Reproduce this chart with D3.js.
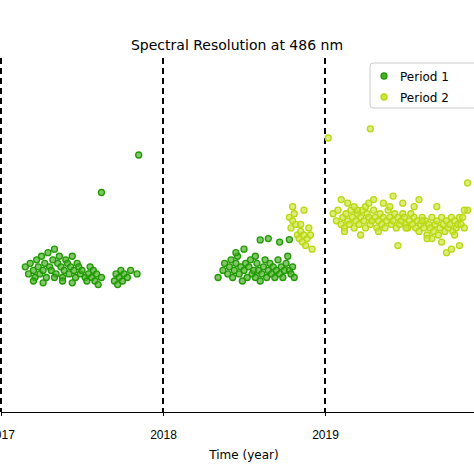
<!DOCTYPE html><html><head><meta charset="utf-8">
<script src="https://cdn.jsdelivr.net/npm/d3@7"></script>
<style>body{margin:0;background:#fff}svg{font-family:"DejaVu Sans",sans-serif}</style></head><body>
<svg id="c" width="474" height="474"></svg>
<script>
const yearTicks = [2017, 2018, 2019, 2020];
const dividers = [2017, 2018, 2019];
const period1 = [[2017.15,41],[2017.17,39],[2017.18,42],[2017.2,40],[2017.21,38],[2017.22,43],[2017.23,41],[2017.24,39],[2017.25,44],[2017.26,40],[2017.27,42],[2017.28,38],[2017.29,45],[2017.3,41],[2017.31,40],[2017.32,43],[2017.33,46],[2017.34,39],[2017.35,42],[2017.36,44],[2017.37,41],[2017.38,38],[2017.39,40],[2017.4,43],[2017.41,42],[2017.42,39],[2017.43,41],[2017.44,44],[2017.45,40],[2017.46,38],[2017.47,42],[2017.48,41],[2017.49,39],[2017.2,37],[2017.26,36.5],[2017.33,38],[2017.38,37],[2017.44,36.5],[2017.5,40],[2017.52,38],[2017.53,37],[2017.54,39],[2017.55,41],[2017.56,38],[2017.57,40],[2017.58,37],[2017.59,39],[2017.6,36],[2017.62,38],[2017.7,37],[2017.71,39],[2017.72,36],[2017.73,38],[2017.74,40],[2017.75,37],[2017.76,39],[2017.78,38],[2017.8,40],[2017.84,39],[2017.62,62],[2017.85,72.6],
[2018.34,38],[2018.37,40],[2018.38,42],[2018.4,39],[2018.41,41],[2018.42,43],[2018.43,38],[2018.44,40],[2018.45,42],[2018.46,44],[2018.47,39],[2018.48,41],[2018.49,37],[2018.5,40],[2018.51,42],[2018.52,38],[2018.53,41],[2018.54,43],[2018.55,39],[2018.56,40],[2018.57,38],[2018.58,42],[2018.59,40],[2018.6,37],[2018.61,39],[2018.62,41],[2018.63,43],[2018.64,38],[2018.65,40],[2018.66,42],[2018.67,39],[2018.68,41],[2018.69,38],[2018.7,40],[2018.71,43],[2018.72,39],[2018.73,41],[2018.74,38],[2018.75,40],[2018.76,42],[2018.77,44],[2018.78,40],[2018.79,39],[2018.8,41],[2018.81,38],[2018.45,45],[2018.5,46],[2018.57,44],[2018.6,48.6],[2018.65,49],[2018.72,48],[2018.78,48.7]];
const period2 = [[2018.78,55],[2018.79,52],[2018.8,54],[2018.81,56],[2018.82,53],[2018.83,50],[2018.84,49],[2018.85,51],[2018.86,48],[2018.87,50],[2018.88,47],[2018.89,49],[2018.9,52],[2018.91,50],[2018.92,46],[2018.8,58],[2018.85,53],[2018.87,57],
[2019.02,77.4],[2019.05,56],[2019.07,54],[2019.08,57],[2019.1,53],[2019.11,55],[2019.12,52],[2019.13,56],[2019.14,54],[2019.15,53],[2019.16,57],[2019.17,55],[2019.18,52],[2019.19,54],[2019.2,56],[2019.21,53],[2019.22,55],[2019.23,57],[2019.24,54],[2019.25,52],[2019.26,56],[2019.27,55],[2019.28,53],[2019.29,54],[2019.3,57],[2019.31,55],[2019.32,52],[2019.33,54],[2019.34,56],[2019.35,53],[2019.36,55],[2019.37,52],[2019.38,54],[2019.39,57],[2019.4,55],[2019.41,53],[2019.42,54],[2019.43,56],[2019.44,52],[2019.45,55],[2019.46,53],[2019.47,54],[2019.48,56],[2019.49,55],[2019.5,53],[2019.51,52],[2019.52,54],[2019.53,56],[2019.54,53],[2019.55,55],[2019.56,52],[2019.57,54],[2019.58,51],[2019.59,53],[2019.6,55],[2019.61,52],[2019.62,54],[2019.63,50],[2019.64,53],[2019.65,52],[2019.66,55],[2019.67,51],[2019.68,53],[2019.69,54],[2019.7,50],[2019.71,52],[2019.72,55],[2019.73,53],[2019.74,51],[2019.75,54],[2019.76,52],[2019.77,53],[2019.78,55],[2019.79,51],[2019.8,54],[2019.81,52],[2019.82,53],[2019.83,55],[2019.84,53],[2019.85,55],[2019.86,52],[2019.88,64.7],
[2019.1,60],[2019.14,59],[2019.2,57],[2019.25,58],[2019.3,60],[2019.36,59],[2019.42,61],[2019.48,59],[2019.55,58],[2019.6,54],[2019.66,49],[2019.72,48],[2019.78,46],[2019.83,47],[2019.88,57],[2019.28,80],[2019.12,51],[2019.18,58],[2019.22,50],[2019.27,59],[2019.33,51],[2019.4,58],[2019.45,47],[2019.5,52],[2019.58,60],[2019.63,49],[2019.69,58],[2019.75,45],[2019.8,50],[2019.86,57]];

const svg = d3.select("#c");
const x = d3.scaleLinear().domain([2017, 2020]).range([1, 487]);
const y = d3.scaleLinear().domain([0, 100]).range([412, 58]);

svg.append("g").attr("transform","translate(0,412)")
  .call(d3.axisBottom(x).tickValues(yearTicks).tickFormat(d3.format("d")).tickSize(4).tickSizeOuter(0))
  .call(g=>{g.select(".domain").attr("stroke","#000");g.selectAll("text").attr("font-size",12).attr("fill","#000").attr("dy","1.7em");});

svg.selectAll("line.div").data(dividers).join("line").attr("class","div")
  .attr("x1",d=>x(d)).attr("x2",d=>x(d)).attr("y1",58).attr("y2",412)
  .attr("stroke","#000").attr("stroke-width",2).attr("stroke-dasharray","6,4");

function dots(data, fill, stroke){
  svg.append("g").selectAll("circle").data(data).join("circle")
    .attr("cx",d=>x(d[0])).attr("cy",d=>y(d[1])).attr("r",3)
    .attr("fill",fill).attr("fill-opacity",0.7).attr("stroke",stroke).attr("stroke-width",1.3);
}
dots(period1, "#4cae2a", "#1f9a00");
dots(period2, "#cfe640", "#b8d810");

svg.append("text").attr("x",237).attr("y",50).attr("text-anchor","middle").attr("font-size",14).text("Spectral Resolution at 486 nm");
svg.append("text").attr("x",244).attr("y",459).attr("text-anchor","middle").attr("font-size",12).text("Time (year)");

const lg = svg.append("g");
lg.append("rect").attr("x",370).attr("y",63).attr("width",110).attr("height",45).attr("rx",3).attr("fill","#fff").attr("stroke","#ccc");
[["Period 1","#4cae2a","#1f9a00"],["Period 2","#cfe640","#b8d810"]].forEach((d,i)=>{
  lg.append("circle").attr("cx",384).attr("cy",76+i*21).attr("r",3).attr("fill",d[1]).attr("stroke",d[2]).attr("stroke-width",1.3);
  lg.append("text").attr("x",400).attr("y",81+i*21).attr("font-size",12).text(d[0]);
});
</script></body></html>
